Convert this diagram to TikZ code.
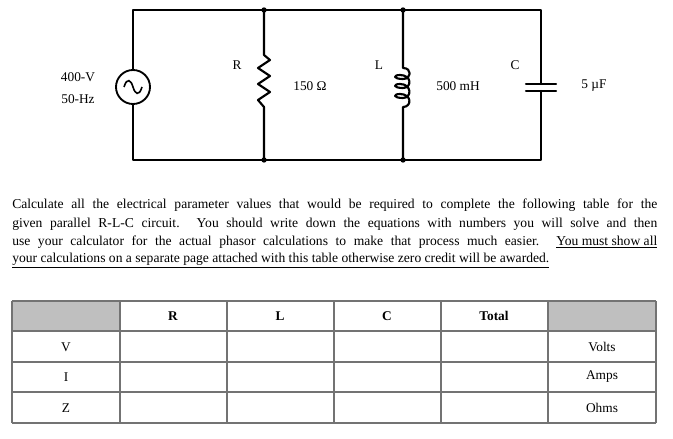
\documentclass[tikz,border=0pt]{standalone}
\usepackage{fontspec}
\setmainfont{Liberation Serif}
\begin{document}
\begin{tikzpicture}[x=0.75pt,y=-0.75pt,
  wire/.style={line width=1.6pt,line cap=round,line join=round},
  lab/.style={font=\fontsize{10}{12}\selectfont,inner sep=0pt},
  grid/.style={draw=black!55,line width=0.8pt},
  pline/.style={anchor=base west,inner sep=0pt,font=\fontsize{10.2}{12}\selectfont},
  cell/.style={font=\fontsize{10}{12}\selectfont,inner sep=0pt}]
\useasboundingbox (0,0) rectangle (673,438);
% circuit nodes
\coordinate (tl) at (133,10); \coordinate (bl) at (133,160);
\coordinate (tr) at (264,10); \coordinate (br) at (264,160);
\coordinate (tL) at (403,10); \coordinate (bL) at (403,160);
\coordinate (tc) at (541,10); \coordinate (bc) at (541,160);
\node[circle,draw,line width=1.4pt,minimum size=25.5pt,inner sep=0pt] (src) at (133,87) {};
\draw[line width=1.2pt] (124,87) .. controls (127,77) and (131,80) .. (133,87) .. controls (135,94) and (139,97) .. (142,87);
\draw[wire] (src.north) -- (tl) -- (tc) -- (541,84);
\draw[wire] (src.south) -- (bl) -- (bc) -- (541,91);
\draw[wire] (526,84) -- (556,84); \draw[wire] (526,91) -- (556,91);
% resistor
\draw[wire] (tr) -- (264,55) -- (270,60) -- (258,68) -- (270,76) -- (258,84) -- (270,92) -- (258,100) -- (264,107) -- (br);
% inductor
\draw[wire] (tL) -- (403,68) .. controls (412,68) and (412,79) .. (403,79)
  .. controls (393,79) and (393,75) .. (400,75)
  .. controls (412,75) and (412,88) .. (403,88)
  .. controls (393,88) and (393,84) .. (400,84)
  .. controls (412,84) and (412,98) .. (403,98)
  .. controls (393,98) and (393,94) .. (400,94)
  .. controls (412,94) and (412,107) .. (403,107) -- (403,115) -- (bL);
\fill (tr) circle (2pt); \fill (br) circle (2pt); \fill (tL) circle (2pt); \fill (bL) circle (2pt);
\node[lab] (v1) at (78,77) {400-V};
\node[lab] (v2) at (78,99) {50-Hz};
\node[lab] (rl) at (237,65) {R};
\node[lab] (rv) at (310,86) {150 Ω};
\node[lab] (ll) at (379,65) {L};
\node[lab] (lv) at (458,86) {500 mH};
\node[lab] (cl) at (515,65) {C};
\node[lab] (cv) at (594,86) {5 µF};
% paragraph
\node[pline] (p1) at (12,209) {\makebox[483.75pt][s]{Calculate all the electrical parameter values that would be required to complete the following table for the}};
\node[pline] (p2) at (12,227) {\makebox[483.75pt][s]{given parallel R-L-C circuit. You should write down the equations with numbers you will solve and then}};
\node[pline] (p3) at (12,245) {\makebox[483.75pt][s]{use your calculator for the actual phasor calculations to make that process much easier. \underline{You must show all}}};
\node[pline] (p4) at (12,262) {\underline{your calculations on a separate page attached with this table otherwise zero credit will be awarded.}};
% table
\fill[black!25] (12,301) rectangle (120,331);
\fill[black!25] (548,301) rectangle (656,331);
\foreach \x in {12,120,227,334,441,548,656} \draw[grid] (\x,301) -- (\x,423);
\foreach \y in {301,331,362,392,423} \draw[grid] (12,\y) -- (656,\y);
\node[cell,font=\fontsize{10}{12}\selectfont\bfseries] (hR) at (173,316) {R};
\node[cell,font=\fontsize{10}{12}\selectfont\bfseries] (hL) at (280,316) {L};
\node[cell,font=\fontsize{10}{12}\selectfont\bfseries] (hC) at (387,316) {C};
\node[cell,font=\fontsize{10}{12}\selectfont\bfseries] (hT) at (494,316) {Total};
\node[cell] (rV) at (66,347) {V};
\node[cell] (rI) at (66,377) {I};
\node[cell] (rZ) at (66,408) {Z};
\node[cell] (uV) at (602,347) {Volts};
\node[cell] (uI) at (602,377) {Amps};
\node[cell] (uZ) at (602,408) {Ohms};
\end{tikzpicture}
\end{document}
